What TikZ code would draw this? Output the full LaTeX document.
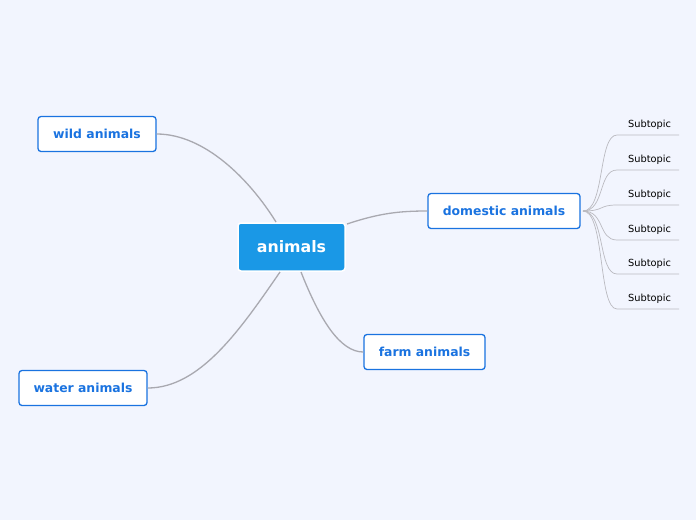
\documentclass[tikz,border=0pt]{standalone}
\usepackage{fontspec}
\setmainfont{DejaVu Sans}
\definecolor{bg}{HTML}{F2F5FE}
\definecolor{mainblue}{HTML}{1A98E6}
\definecolor{topicblue}{HTML}{1A73E0}
\definecolor{linegray}{HTML}{A9A9B0}
\tikzset{
 topic/.style={draw=topicblue,line width=1.3pt,fill=white,rounded corners=3pt,text=topicblue,font=\fontsize{12.4}{14}\selectfont\bfseries,minimum height=35pt,inner xsep=0pt},
 conn/.style={draw=linegray,line width=1.3pt},
 subconn/.style={draw=linegray!80,line width=0.7pt},
 sub/.style={font=\fontsize{9.8}{11}\selectfont,inner sep=0pt}
}
\begin{document}
\begin{tikzpicture}[x=1pt,y=-1pt]
\fill[bg] (0,0) rectangle (696,520);
\useasboundingbox (0,0) rectangle (696,520);
\node[fill=mainblue,draw=white,line width=1.5pt,rounded corners=3pt,minimum width=107pt,minimum height=48pt,text=white,font=\fontsize{15.8}{18}\selectfont\bfseries] (c) at (291.5,247) {animals};
\node[topic,minimum width=118pt] (w) at (97,134) {wild animals};
\node[topic,minimum width=128pt] (wa) at (83,388) {water animals};
\node[topic,minimum width=152pt] (d) at (504,211) {domestic animals};
\node[topic,minimum width=121pt] (f) at (424.5,352) {farm animals};
\coordinate (c1) at (276,222);
\coordinate (c2) at (280,272);
\coordinate (c3) at (347,224);
\coordinate (c4) at (301,272);
\draw[conn] (w.east) .. controls (205,134) and (250,180) .. (c1);
\draw[conn] (wa.east) .. controls (200,388) and (240,330) .. (c2);
\draw[conn] (c3) .. controls (380,213) and (400,211) .. (d.west);
\draw[conn] (c4) .. controls (320,320) and (340,352) .. (f.west);
\coordinate (ds) at (583,211);
\foreach \i/\ty in {1/135,2/170,3/205,4/240,5/274,6/309}{
  \node[sub,anchor=base] (s\i) at (649.5,\ty-8) {Subtopic};
  \coordinate (u\i) at (617,\ty);
  \coordinate (v\i) at (679,\ty);
  \draw[subconn] (ds) .. controls (605,211) and (598,\ty) .. (u\i) -- (v\i);
}
\end{tikzpicture}
\end{document}
